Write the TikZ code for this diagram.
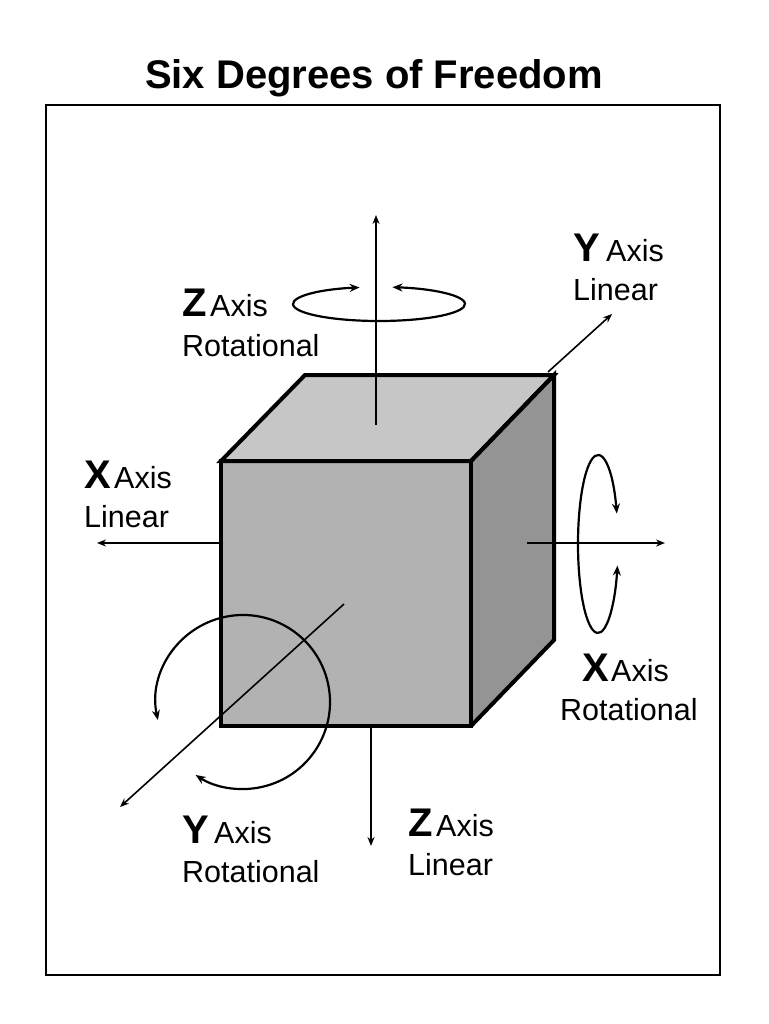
\documentclass[tikz,border=0pt]{standalone}
\usepackage{fontspec}
\setmainfont{Liberation Sans}
\usetikzlibrary{arrows.meta}
\begin{document}
\begin{tikzpicture}[x=1pt,y=-1pt,
  ax/.style={line width=1.6pt,-{Stealth[length=9pt,width=7pt]}},
  rot/.style={line width=2.2pt,{Stealth[length=10pt,width=8pt]}-{Stealth[length=10pt,width=8pt]}},
  big/.style={anchor=base west,inner sep=0,font=\fontsize{40}{40}\selectfont\bfseries},
  sm/.style={anchor=base west,inner sep=0,font=\fontsize{30.5}{30.5}\selectfont},
  edge/.style={line width=4pt,line join=miter}]
\useasboundingbox (0,0) rectangle (768,1024);
\node[font=\fontsize{40}{40}\selectfont\bfseries] (title) at (374,78) {Six Degrees of Freedom};
\draw[line width=2pt] (46,105) rectangle (720,975);
% cube
\coordinate (a) at (221,461); \coordinate (b) at (471,461);
\coordinate (c) at (471,726); \coordinate (d) at (221,726);
\coordinate (e) at (305,375); \coordinate (f) at (554,375); \coordinate (g) at (554,640);
\fill[gray!45] (a) -- (e) -- (f) -- (b) -- cycle;
\fill[gray!80!black!70] (b) -- (f) -- (g) -- (c) -- cycle;
\fill[gray!60] (a) rectangle (c);
\draw[edge] (a) -- (e) -- (f) -- (b) -- cycle;
\draw[edge] (b) -- (f) -- (g) -- (c);
\draw[edge] (a) rectangle (c);
% axes
\coordinate (zt) at (376,425); \coordinate (zh) at (376,215);
\draw[ax] (zt) -- (zh);
\coordinate (yt) at (548,372); \coordinate (yh) at (612,314);
\draw[ax] (yt) -- (yh);
\coordinate (xt) at (221,543); \coordinate (xh) at (97,543);
\draw[ax] (xt) -- (xh);
\coordinate (xrt) at (527,543); \coordinate (xrh) at (665,543);
\draw[ax] (xrt) -- (xrh);
\coordinate (zlt) at (371,726); \coordinate (zlh) at (371,846);
\draw[ax] (zlt) -- (zlh);
\coordinate (yrt) at (344,604); \coordinate (yrh) at (120,807);
\draw[ax] (yrt) -- (yrh);
% rotations
\draw[rot] (379,304) ++(257:86 and 17) arc[start angle=257,end angle=-81,x radius=86,y radius=17];
\draw[rot] (598,544) ++(-20:20 and 89) arc[start angle=-20,end angle=-346,x radius=20,y radius=89];
\draw[rot] (243,702) ++(168:87) arc[start angle=168,end angle=483,radius=87];
% labels
\node[big] (zr1) at (182,316) {Z}; \node[sm] (zr2) at (210,316) {Axis};
\node[sm] (zr3) at (182,356) {Rotational};
\node[big] (yl1) at (573,261) {Y}; \node[sm] (yl2) at (606,261) {Axis};
\node[sm] (yl3) at (573,300) {Linear};
\node[big] (xl1) at (84,488) {X}; \node[sm] (xl2) at (114,488) {Axis};
\node[sm] (xl3) at (84,527) {Linear};
\node[big] (xr1) at (582,681) {X}; \node[sm] (xr2) at (611,681) {Axis};
\node[sm] (xr3) at (560,720) {Rotational};
\node[big] (yr1) at (182,843) {Y}; \node[sm] (yr2) at (214,843) {Axis};
\node[sm] (yr3) at (182,882) {Rotational};
\node[big] (zl1) at (408,836) {Z}; \node[sm] (zl2) at (436,836) {Axis};
\node[sm] (zl3) at (408,875) {Linear};
\end{tikzpicture}
\end{document}
